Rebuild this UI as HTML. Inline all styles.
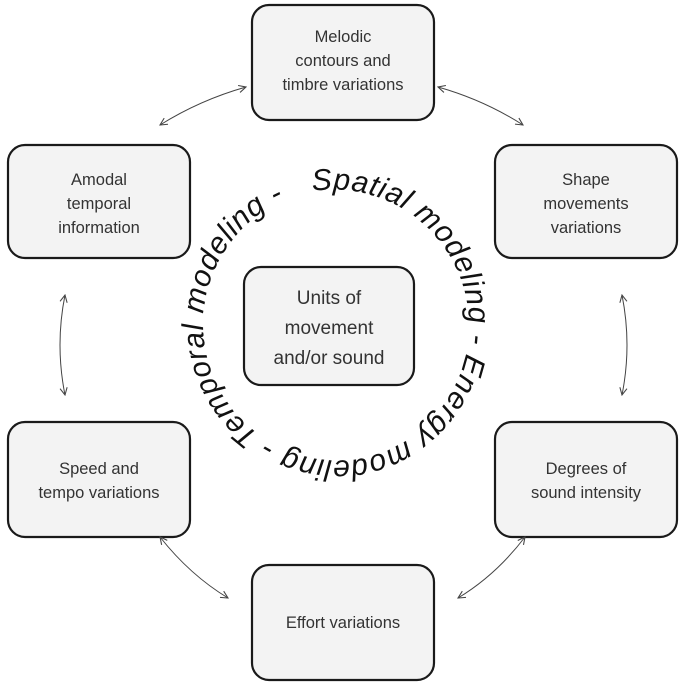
<!DOCTYPE html>
<html><head><meta charset="utf-8"><style>
html,body{margin:0;padding:0;background:#fff;}
svg{display:block;}
.b{fill:#f3f3f3;stroke:#1a1a1a;stroke-width:2.2;}
.t{font-family:"Liberation Sans",sans-serif;font-size:16.5px;fill:#333;text-anchor:middle;}
.a{fill:none;stroke:#444;stroke-width:1;marker-start:url(#m);marker-end:url(#m);}
</style></head><body>
<svg width="685" height="685" viewBox="0 0 685 685">
<defs>
<marker id="m" viewBox="0 0 10 10" refX="9" refY="5" markerWidth="9" markerHeight="9" orient="auto-start-reverse" markerUnits="userSpaceOnUse">
<path d="M1,1 L9,5 L1,9" fill="none" stroke="#444" stroke-width="1.2"/></marker>
<path id="c" d="M312.4,191.1 A136,136 0 0 1 359.6,458.9 A136,136 0 0 1 312.4,191.1"/>
</defs>
<rect class="b" x="252" y="5" width="182" height="115" rx="17"/>
<text class="t" x="343" y="42">Melodic</text><text class="t" x="343" y="66">contours and</text><text class="t" x="343" y="90">timbre variations</text>
<rect class="b" x="8" y="145" width="182" height="113" rx="17"/>
<text class="t" x="99" y="185">Amodal</text><text class="t" x="99" y="209">temporal</text><text class="t" x="99" y="233">information</text>
<rect class="b" x="495" y="145" width="182" height="113" rx="17"/>
<text class="t" x="586" y="185">Shape</text><text class="t" x="586" y="209">movements</text><text class="t" x="586" y="233">variations</text>
<rect class="b" x="244" y="267" width="170" height="118" rx="17"/>
<text class="t" style="font-size:19px" x="329" y="304">Units of</text><text class="t" style="font-size:19px" x="329" y="334">movement</text><text class="t" style="font-size:19px" x="329" y="364">and/or sound</text>
<rect class="b" x="8" y="422" width="182" height="115" rx="17"/>
<text class="t" x="99" y="474">Speed and</text><text class="t" x="99" y="498">tempo variations</text>
<rect class="b" x="495" y="422" width="182" height="115" rx="17"/>
<text class="t" x="586" y="474">Degrees of</text><text class="t" x="586" y="498">sound intensity</text>
<rect class="b" x="252" y="565" width="182" height="115" rx="17"/>
<text class="t" x="343" y="628">Effort variations</text>
<path class="a" d="M160,125 Q200,100 246,87"/>
<path class="a" d="M438,87 Q484,100 523,125"/>
<path class="a" d="M65,295 Q55,345 65,395"/>
<path class="a" d="M622,295 Q632,345 622,395"/>
<path class="a" d="M160,537 Q190,575 228,598"/>
<path class="a" d="M458,598 Q496,575 525,537"/>
<text style="font-family:'Liberation Sans',sans-serif;font-style:italic;font-size:30px;fill:#111;"><textPath href="#c" textLength="812" lengthAdjust="spacing">Spatial modeling  -  Energy modeling  -  Temporal modeling  -</textPath></text>
</svg>
</body></html>
